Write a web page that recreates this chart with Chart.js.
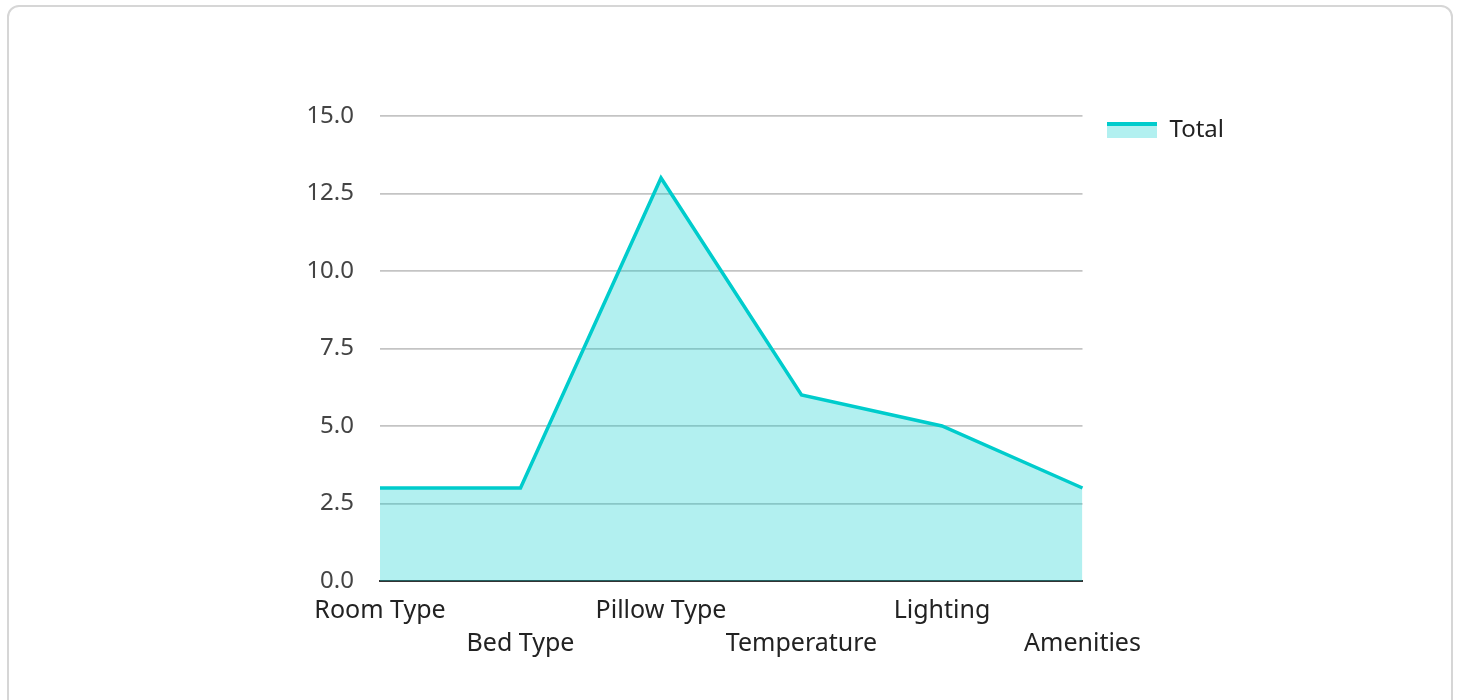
<!DOCTYPE html>
<html>
<head>
<meta charset="utf-8">
<script src="https://cdn.jsdelivr.net/npm/chart.js@4.4.1/dist/chart.umd.min.js"></script>
<style>
  body { margin: 0; background: #fff; font-family: "Noto Sans", sans-serif; }
  .card {
    position: absolute; left: 7px; top: 5px; width: 1446px; height: 720px;
    border: 2px solid #d6d6d6; border-radius: 12px; box-sizing: border-box;
  }
  .wrap { position: absolute; left: 0; top: 0; width: 1458px; height: 700px; }
</style>
</head>
<body>
<div class="card"></div>
<div class="wrap"><canvas id="chart"></canvas></div>
<script>
const categories = ["Room Type", "Bed Type", "Pillow Type", "Temperature", "Lighting", "Amenities"];
const totals = [3, 3, 13, 6, 5, 3];
const yMin = 0;
const yMax = 15;
const yStep = 2.5;

const lineColor = "#00cccc";
const fillColor = "rgba(0, 204, 204, 0.3)";

// legend swatch: filled box with a thick line on top
const swatch = document.createElement("canvas");
swatch.width = 50;
swatch.height = 16;
const sctx = swatch.getContext("2d");
sctx.fillStyle = fillColor;
sctx.fillRect(0, 0, 50, 16);
sctx.fillStyle = lineColor;
sctx.fillRect(0, 0, 50, 4);

const ctx = document.getElementById("chart").getContext("2d");

new Chart(ctx, {
  type: "line",
  data: {
    labels: categories,
    datasets: [
      {
        label: "Total",
        data: totals,
        borderColor: lineColor,
        backgroundColor: fillColor,
        borderWidth: 3.5,
        fill: "origin",
        pointRadius: 0,
        tension: 0,
      },
    ],
  },
  options: {
    responsive: true,
    maintainAspectRatio: false,
    animation: false,
    layout: { padding: { left: 307, top: 93, bottom: 39, right: 224 } },
    plugins: {
      tooltip: { enabled: false },
      legend: {
        position: "right",
        align: "start",
        labels: {
          usePointStyle: true,
          pointStyle: swatch,
          pointStyleWidth: 50,
          boxHeight: 16,
          padding: 25,
          color: "#222",
          font: { family: "Noto Sans", size: 24 },
        },
      },
    },
    scales: {
      // empty top axis, only to push the plot down below the legend line
      spacer: {
        type: "category",
        position: "top",
        grid: { display: false, drawTicks: false },
        border: { display: false },
        ticks: { display: false },
        afterFit: (scale) => { scale.height = 23; },
      },
      x: {
        offset: false,
        grid: { display: false, drawTicks: false },
        border: { display: true, color: "#333", width: 2 },
        afterFit: (scale) => { scale.height = 80; },
        ticks: {
          autoSkip: false,
          maxRotation: 0,
          padding: 13,
          color: "#222",
          font: { family: "Noto Sans", size: 25, lineHeight: 1.33 },
          callback: function (value, index) {
            const label = this.getLabelForValue(value);
            return index % 2 === 1 ? ["", label] : label;
          },
        },
      },
      y: {
        min: yMin,
        max: yMax,
        grid: {
          drawTicks: false,
          color: (c) => (c.tick && c.tick.value === 0 ? "rgba(0,0,0,0)" : "#c4c4c4"),
          lineWidth: 1.8,
        },
        border: { display: false },
        afterFit: (scale) => { scale.width = 73; },
        ticks: {
          stepSize: yStep,
          padding: 26,
          color: "#444",
          font: { family: "Noto Sans", size: 24 },
          callback: (v) => v.toFixed(1),
        },
      },
    },
  },
});
</script>
</body>
</html>
